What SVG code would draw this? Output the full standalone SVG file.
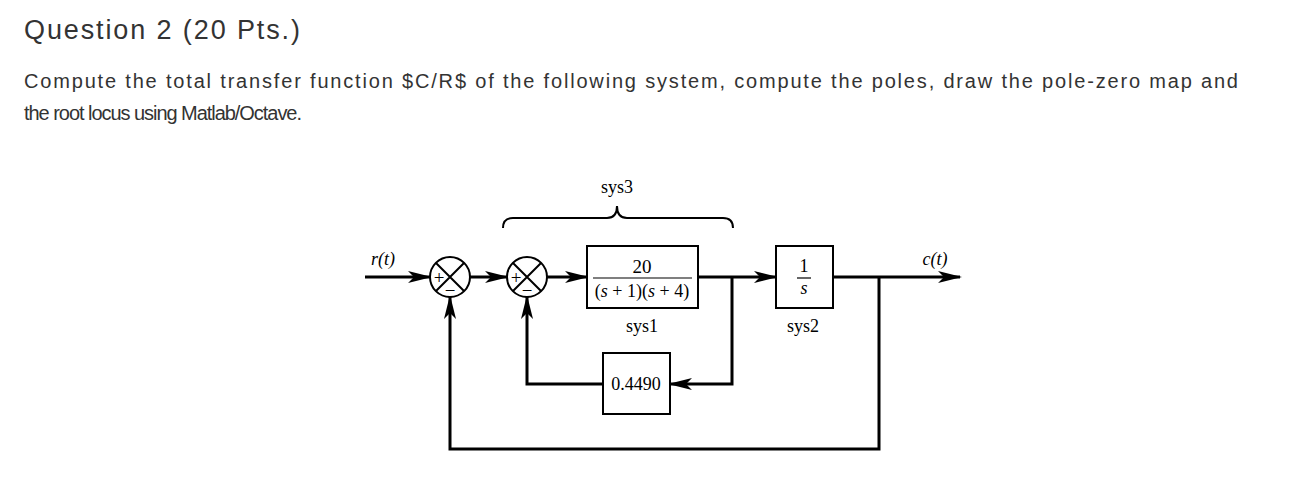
<svg xmlns="http://www.w3.org/2000/svg" width="1305" height="495" viewBox="0 0 1305 495">
<style>
.h{font-family:"Liberation Sans",Arial,sans-serif;fill:#333}
.t{font-family:"Liberation Serif","Times New Roman",serif;fill:#000}
.w{stroke:#000;stroke-width:3;fill:none}
.b{stroke:#000;stroke-width:2;fill:#fff}
</style>
<defs><marker id="a" markerWidth="24" markerHeight="12" refX="22" refY="6" orient="auto" markerUnits="userSpaceOnUse"><path d="M0,0 L24,6 L0,12 L6,6 Z" fill="#000"/></marker></defs>
<rect width="1305" height="495" fill="#fff"/>
<text class="h" x="24" y="39" font-size="27" textLength="276" lengthAdjust="spacing">Question 2 (20 Pts.)</text>
<text class="h" x="24" y="88" font-size="20" textLength="1214" lengthAdjust="spacing">Compute the total transfer function $C/R$ of the following system, compute the poles, draw the pole-zero map and</text>
<text class="h" x="24" y="120" font-size="20" textLength="278" lengthAdjust="spacing">the root locus using Matlab/Octave.</text>
<g id="connectors" class="w">
<path d="M365,277 H430" marker-end="url(#a)"/>
<path d="M470,277 H507" marker-end="url(#a)"/>
<path d="M547,277 H587" marker-end="url(#a)"/>
<path d="M698,277 H776" marker-end="url(#a)"/>
<path d="M833,277 H960" marker-end="url(#a)"/>
<path d="M732,277 V384 H670" marker-end="url(#a)"/>
<path d="M603,384 H527 V297" marker-end="url(#a)"/>
<path d="M879,277 V449 H450 V297" marker-end="url(#a)"/>
<path d="M503,228 Q503,218 513,218 H607 Q617,218 617,206 Q617,218 627,218 H723 Q733,218 733,228" stroke-width="2"/>
</g>
<g id="sum1"><circle class="b" cx="450" cy="277" r="20"/><path d="M436,263 L464,291 M464,263 L436,291" stroke="#000" stroke-width="2"/><text class="t" x="439" y="284" font-size="19" text-anchor="middle">+</text><text class="t" x="450" y="297" font-size="19" text-anchor="middle">−</text></g>
<g id="sum2"><circle class="b" cx="527" cy="277" r="20"/><path d="M513,263 L541,291 M541,263 L513,291" stroke="#000" stroke-width="2"/><text class="t" x="516" y="284" font-size="19" text-anchor="middle">+</text><text class="t" x="527" y="297" font-size="19" text-anchor="middle">−</text></g>
<g id="sys1"><rect class="b" x="587" y="246" width="111" height="62"/><text class="t" x="642" y="273" font-size="19" text-anchor="middle">20</text><line x1="593" y1="278" x2="692" y2="278" stroke="#000" stroke-width="1.2"/><text class="t" x="642" y="297" font-size="18" text-anchor="middle">(<tspan font-style="italic">s</tspan> + 1)(<tspan font-style="italic">s</tspan> + 4)</text><text class="t" x="642" y="332" font-size="18" text-anchor="middle">sys1</text></g>
<g id="sys2"><rect class="b" x="776" y="246" width="57" height="62"/><text class="t" x="804" y="272" font-size="18" text-anchor="middle">1</text><line x1="797" y1="278" x2="811" y2="278" stroke="#000" stroke-width="1.2"/><text class="t" x="804" y="294" font-size="18" font-style="italic" text-anchor="middle">s</text><text class="t" x="803" y="332" font-size="18" text-anchor="middle">sys2</text></g>
<g id="gain"><rect class="b" x="603" y="353" width="67" height="61"/><text class="t" x="636" y="390" font-size="18" text-anchor="middle">0.4490</text></g>
<text class="t" x="617" y="193" font-size="18" text-anchor="middle">sys3</text>
<text class="t" x="383" y="265" font-size="18" font-style="italic" text-anchor="middle">r(t)</text>
<text class="t" x="935" y="265" font-size="18" font-style="italic" text-anchor="middle">c(t)</text>
</svg>
